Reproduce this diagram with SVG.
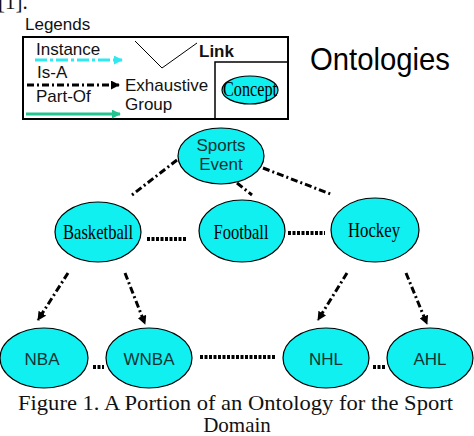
<svg xmlns="http://www.w3.org/2000/svg" width="474" height="436" viewBox="0 0 474 436">
<defs>
<style>
.node{fill:#10f0f0;stroke:#000;stroke-width:1.2}
.ns{font-family:"Liberation Sans",Arial,sans-serif;font-size:17px;fill:#123434;text-anchor:middle}
.nf{font-family:"Liberation Serif","Times New Roman",serif;font-size:21px;fill:#000;text-anchor:middle}
.isa{fill:none;stroke:#000;stroke-width:3;stroke-dasharray:7 3 2 3}
.dot{fill:none;stroke:#000;stroke-width:4;stroke-dasharray:3 1.5}
.lg{font-family:"Liberation Sans",Arial,sans-serif;font-size:17px;fill:#111}
.cap{font-family:"Liberation Serif","Times New Roman",serif;font-size:21px;fill:#111}
</style>
<marker id="ah" viewBox="0 0 10 10" refX="9" refY="5" markerWidth="3" markerHeight="3" orient="auto" markerUnits="strokeWidth">
<path d="M0,0 L10,5 L0,10 z" fill="#000"/>
</marker>
<marker id="ahc" viewBox="0 0 10 10" refX="9" refY="5" markerWidth="3" markerHeight="3" orient="auto" markerUnits="strokeWidth">
<path d="M0,0 L10,5 L0,10 z" fill="#30e8f0"/>
</marker>
<marker id="ahg" viewBox="0 0 10 10" refX="9" refY="5" markerWidth="3" markerHeight="3" orient="auto" markerUnits="strokeWidth">
<path d="M0,0 L10,5 L0,10 z" fill="#22c490"/>
</marker>
</defs>
<rect width="474" height="436" fill="#fff"/>
<text x="-2" y="9" class="cap">[1].</text>

<g id="legend">
<text x="25" y="30" class="lg" font-size="17.5">Legends</text>
<rect x="23" y="37" width="265" height="82" fill="none" stroke="#000" stroke-width="2"/>
<path d="M215,119 V62 H288" fill="none" stroke="#000" stroke-width="1.5"/>
<text x="36" y="55" class="lg">Instance</text>
<line x1="35" y1="60" x2="122" y2="60" stroke="#30e8f0" stroke-width="3" stroke-dasharray="12 3 3 3" marker-end="url(#ahc)"/>
<text x="37" y="78" class="lg">Is-A</text>
<line x1="27" y1="85" x2="119" y2="85" class="isa" stroke-width="3.5" marker-end="url(#ah)"/>
<text x="36" y="102" class="lg">Part-Of</text>
<line x1="26" y1="114" x2="120" y2="114" stroke="#22c490" stroke-width="3" marker-end="url(#ahg)"/>
<text x="125" y="91" class="lg">Exhaustive</text>
<text x="125" y="110" class="lg">Group</text>
<polyline points="135,41 162,68 197,43" fill="none" stroke="#000" stroke-width="1"/>
<text x="199" y="57" class="lg" font-size="15.5" font-weight="bold">Link</text>
<ellipse cx="250" cy="90" rx="28" ry="14" class="node"/>
<text x="250" y="96" class="nf" font-size="18" textLength="54" lengthAdjust="spacingAndGlyphs">Concept</text>
</g>

<text x="310" y="70" font-family="Liberation Sans,Arial,sans-serif" font-size="32" fill="#000" textLength="140" lengthAdjust="spacingAndGlyphs">Ontologies</text>

<g id="connectors">
<line x1="177" y1="160" x2="132" y2="195" class="isa"/>
<line x1="263" y1="168" x2="333" y2="195" class="isa"/>
<line x1="237" y1="183" x2="252" y2="195" class="isa" stroke-width="2"/>
<line x1="147" y1="239" x2="186" y2="239" class="dot"/>
<line x1="288" y1="233" x2="325" y2="233" class="dot"/>
<line x1="68" y1="273" x2="38" y2="320" class="isa" marker-end="url(#ah)"/>
<line x1="125" y1="273" x2="145" y2="324" class="isa" marker-end="url(#ah)"/>
<line x1="347" y1="273" x2="318" y2="320" class="isa" marker-end="url(#ah)"/>
<line x1="406" y1="273" x2="427" y2="324" class="isa" marker-end="url(#ah)"/>
<line x1="93" y1="367" x2="104" y2="367" class="dot"/>
<line x1="200" y1="357" x2="276" y2="357" class="dot"/>
<line x1="373" y1="367" x2="385" y2="367" class="dot"/>
</g>

<g id="sports-event">
<ellipse cx="221" cy="156" rx="43" ry="28" class="node"/>
<text x="221" y="151" class="ns">Sports</text>
<text x="221" y="170" class="ns">Event</text>
</g>
<g id="basketball">
<ellipse cx="98" cy="232" rx="43" ry="30" class="node"/>
<text x="98" y="239" class="nf" textLength="70" lengthAdjust="spacingAndGlyphs">Basketball</text>
</g>
<g id="football">
<ellipse cx="242" cy="231" rx="43" ry="31" class="node"/>
<text x="241" y="239" class="nf" textLength="55" lengthAdjust="spacingAndGlyphs">Football</text>
</g>
<g id="hockey">
<ellipse cx="375" cy="230" rx="44" ry="32" class="node"/>
<text x="374" y="237" class="nf" textLength="52" lengthAdjust="spacingAndGlyphs">Hockey</text>
</g>
<g id="nba">
<ellipse cx="44" cy="358" rx="44" ry="30" class="node"/>
<text x="42" y="365" class="ns">NBA</text>
</g>
<g id="wnba">
<ellipse cx="149" cy="358" rx="43" ry="30" class="node"/>
<text x="149" y="365" class="ns">WNBA</text>
</g>
<g id="nhl">
<ellipse cx="326" cy="358" rx="43" ry="30" class="node"/>
<text x="326" y="365" class="ns">NHL</text>
</g>
<g id="ahl">
<ellipse cx="430" cy="358" rx="43" ry="30" class="node"/>
<text x="430" y="365" class="ns">AHL</text>
</g>

<text x="18" y="410" class="cap" textLength="435" lengthAdjust="spacingAndGlyphs">Figure 1. A Portion of an Ontology for the Sport</text>
<text x="237" y="432" class="cap" text-anchor="middle">Domain</text>
</svg>
